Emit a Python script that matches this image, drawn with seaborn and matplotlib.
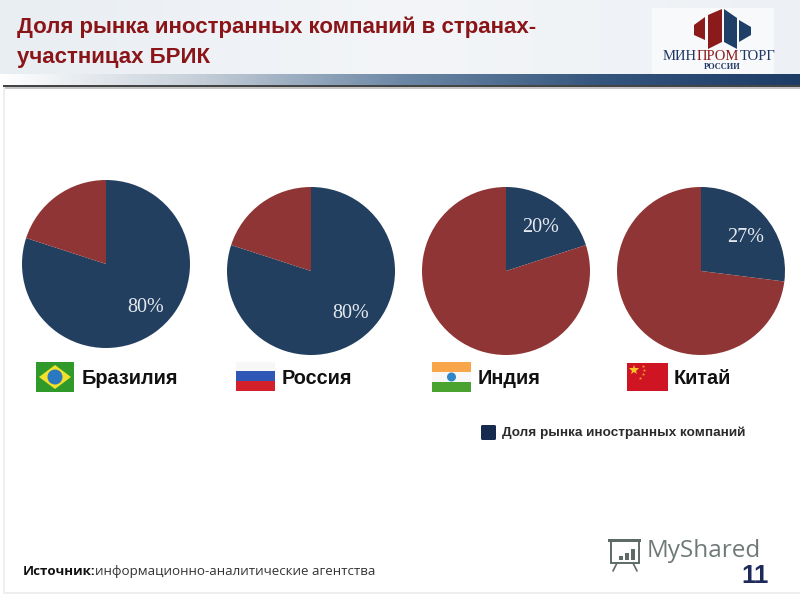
import numpy as np
import matplotlib
matplotlib.use("Agg")
import matplotlib.pyplot as plt
from matplotlib.patches import Rectangle, Polygon, Circle, FancyBboxPatch
from matplotlib.colors import LinearSegmentedColormap
import seaborn as sns

title_lines = ["Доля рынка иностранных компаний в странах-", "участницах БРИК"]
countries = ["Бразилия", "Россия", "Индия", "Китай"]
foreign_share = [80, 80, 20, 27]
share_labels = ["80%", "80%", "20%", "27%"]
legend_label = "Доля рынка иностранных компаний"
source_bold = "Источник:"
source_text = "информационно-аналитические агентства"
page_number = "11"

sns.set_theme(style="white")
plt.rcParams["font.family"] = ["Liberation Sans", "DejaVu Sans"]
palette = sns.color_palette(["#233f5f", "#8f3535"])

fig = plt.figure(figsize=(8, 6), dpi=100, facecolor="white")
bg = fig.add_axes([0, 0, 1, 1])
bg.set_xlim(0, 800); bg.set_ylim(600, 0); bg.axis("off")

# header
head = LinearSegmentedColormap.from_list("h", ["#e9eef3", "#f3f5f8", "#edf1f5"])
bg.imshow(np.linspace(0, 1, 256)[None, :], extent=[0, 800, 74, 0], cmap=head, aspect="auto", zorder=0)
bar = LinearSegmentedColormap.from_list("b", ["#ffffff", "#c5ced8", "#6d88a6", "#34557d", "#1d3c66"])
bg.imshow(np.linspace(0, 1, 256)[None, :], extent=[0, 800, 85, 74], cmap=bar, aspect="auto", zorder=1)
bg.add_patch(Rectangle((3, 85), 797, 1.5, fc="#444444", ec="none", zorder=1))
bg.add_patch(Rectangle((3, 86.5), 797, 2, fc="#c4c4c4", ec="none", zorder=1))
bg.add_patch(Rectangle((3, 87), 1.5, 506, fc="#eeeeee", ec="none"))
bg.add_patch(Rectangle((3, 592), 797, 1.5, fc="#eeeeee", ec="none"))
bg.set_xlim(0, 800); bg.set_ylim(600, 0)

for y, line in zip([27, 57], title_lines):
    bg.text(17, y, line, color="#8a1518", fontsize=16, fontweight="bold", va="center", ha="left", zorder=3)

# logo
bg.add_patch(Rectangle((652, 8), 122, 66, fc="#f7f9fb", ec="none", zorder=1))
for pts, c in [([(694, 25), (705, 17), (705, 40), (694, 35)], "#8b1a1a"),
               ([(708, 15), (722, 9), (722, 42), (708, 49)], "#8b1a1a"),
               ([(724, 9), (737, 18), (737, 49), (724, 42)], "#1f3f66"),
               ([(739, 20), (751, 27), (751, 35), (739, 42)], "#1f3f66")]:
    bg.add_patch(Polygon(pts, fc=c, ec="none", zorder=2))
renderer = fig.canvas.get_renderer()
x_logo = 663.0
for piece, c in [("МИН", "#1f3564"), ("ПРОМ", "#8b1a1a"), ("ТОРГ", "#1f3564")]:
    t = bg.text(x_logo, 57, piece, family="Liberation Serif", fontsize=10.5, color=c, ha="left", va="center", zorder=3)
    x_logo += t.get_window_extent(renderer).width
bg.text(722, 67, "РОССИИ", family="Liberation Serif", fontweight="bold", fontsize=6, color="#1f3564", ha="center", va="center", zorder=3)

# pies
centers = [(106, 264), (311, 271), (506, 271), (701, 271)]
radius = 84
label_pos = [(146, 307), (351, 314), (541, 227), (746, 237)]
for (cx, cy), share in zip(centers, foreign_share):
    ax = fig.add_axes([(cx - radius) / 800, 1 - (cy + radius) / 600, 2 * radius / 800, 2 * radius / 600])
    ax.pie([share, 100 - share], colors=palette, startangle=90, counterclock=False, radius=1.0,
           wedgeprops=dict(linewidth=0))
    ax.set_xlim(-1, 1); ax.set_ylim(-1, 1)

ov = fig.add_axes([0, 0, 1, 1], facecolor="none")
ov.set_xlim(0, 800); ov.set_ylim(600, 0); ov.axis("off")
for (x, y), s in zip(label_pos, share_labels):
    ov.text(x, y, s, color="#e4e9ef", fontsize=14.5, family="Liberation Serif", ha="center", va="center")

# flags
def brazil(x, y, w=38, h=30):
    ov.add_patch(Rectangle((x, y), w, h, fc="#2f9a2a", ec="none"))
    ov.add_patch(Polygon([(x + 3, y + h / 2), (x + w / 2, y + 3), (x + w - 3, y + h / 2), (x + w / 2, y + h - 3)], fc="#f2e02a", ec="none"))
    ov.add_patch(Circle((x + w / 2, y + h / 2), 7.5, fc="#2a78c0", ec="none"))

def russia(x, y, w=39, h=29):
    for i, c in enumerate(["#f7f7f7", "#2f57b5", "#d4202a"]):
        ov.add_patch(Rectangle((x, y + i * h / 3), w, h / 3, fc=c, ec="none"))

def india(x, y, w=39, h=30):
    for i, c in enumerate(["#f9a64a", "#f7f7f7", "#4aa32e"]):
        ov.add_patch(Rectangle((x, y + i * h / 3), w, h / 3, fc=c, ec="none"))
    ov.add_patch(Circle((x + w / 2, y + h / 2), 4.5, fc="#2f86c8", ec="none"))

def china(x, y, w=41, h=28):
    ov.add_patch(Rectangle((x, y), w, h, fc="#cf1423", ec="none"))
    ov.plot([x + 6.5], [y + 6.5], marker="*", ms=7, color="#f7c52a", mew=0)
    ov.plot([x + 16, x + 17, x + 16, x + 12.5], [y + 3, y + 7, y + 11, y + 15], ls="", marker="*", ms=2.5, color="#f0a52a", mew=0)

brazil(36, 362); russia(236, 361.5); india(432, 362); china(627, 363)

name_pos = [(82, 379), (282, 378), (478, 378), (674, 378)]
for (x, y), name in zip(name_pos, countries):
    ov.text(x, y, name, fontsize=14.3, fontweight="bold", color="#111111", ha="left", va="center")

ov.add_patch(FancyBboxPatch((481, 425), 15, 15, boxstyle="round,pad=0,rounding_size=1.5", fc="#16294f", ec="none"))
ov.text(502, 432.5, legend_label, fontsize=9.7, fontweight="bold", color="#2a2a2a", ha="left", va="center")

# source
ov.text(23, 571.5, source_bold, fontsize=9.6, fontweight="bold", family="Open Sans", color="#111111", ha="left", va="center")
ov.text(95, 571.5, source_text, fontsize=9.6, family="Open Sans", color="#333333", ha="left", va="center")

# watermark and page number
wm = "#5d6a66"
ov.add_patch(Rectangle((611, 541), 28, 22, fc="none", ec=wm, lw=1.4))
ov.add_patch(Rectangle((608, 539), 33, 3, fc=wm, ec="none"))
for bx, bh in [(619, 4), (625, 7), (631, 11)]:
    ov.add_patch(Rectangle((bx, 560 - bh), 3.5, bh, fc=wm, ec="none"))
ov.plot([617, 613], [563, 571], color=wm, lw=1.2)
ov.plot([633, 637], [563, 571], color=wm, lw=1.2)
ov.text(647, 551, "MyShared", fontsize=17.5, family="Open Sans", color="#6f7a78", ha="left", va="center")
ov.text(755, 576, page_number, fontsize=18.5, fontweight="bold", color="#1e2a5a", ha="center", va="center")

fig.savefig("out.png", dpi=100)
